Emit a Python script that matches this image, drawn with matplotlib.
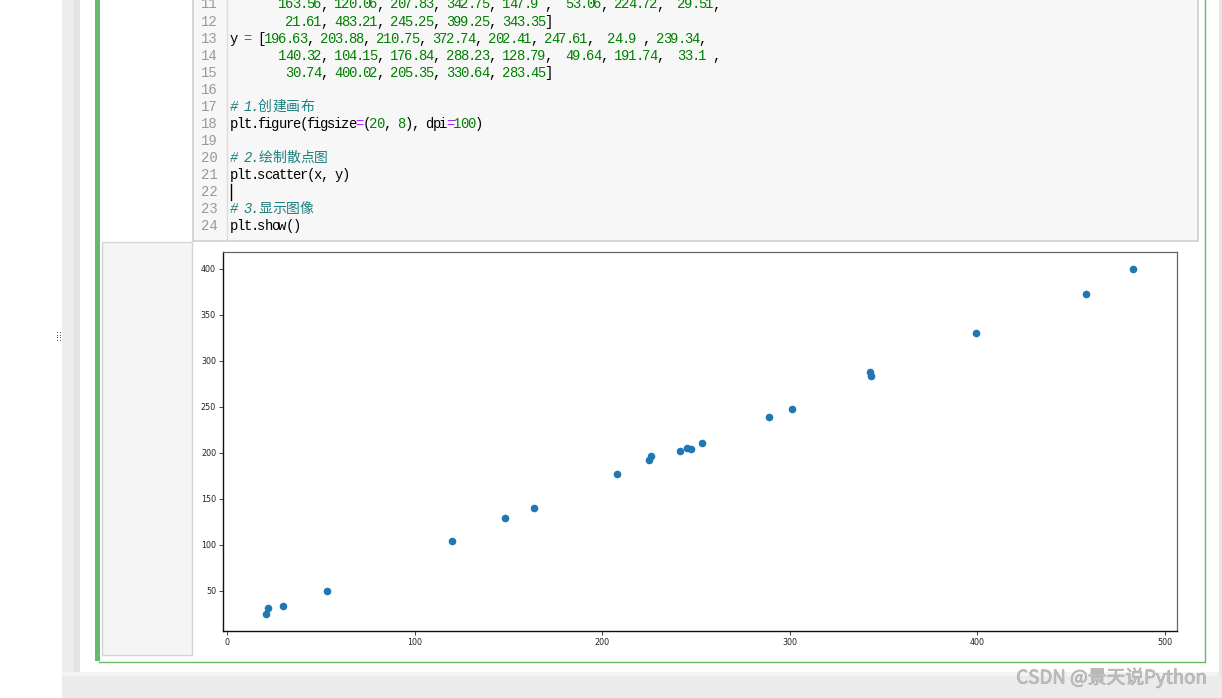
import re
import matplotlib
matplotlib.use("Agg")
import matplotlib.pyplot as plt
from matplotlib.patches import Rectangle
import matplotlib.patheffects as pe
import logging
logging.getLogger('matplotlib.font_manager').setLevel(logging.ERROR)

# ---- data (scatter) ----
x = [225.98, 247.07, 253.14, 457.85, 241.58, 301.01, 20.67, 288.64,
     163.56, 120.06, 207.83, 342.75, 147.9, 53.06, 224.72, 29.51,
     21.61, 483.21, 245.25, 399.25, 343.35]
y = [196.63, 203.88, 210.75, 372.74, 202.41, 247.61, 24.9, 239.34,
     140.32, 104.15, 176.84, 288.23, 128.79, 49.64, 191.74, 33.1,
     30.74, 400.02, 205.35, 330.64, 283.45]
x_ticks = [0, 100, 200, 300, 400, 500]
y_ticks = [50, 100, 150, 200, 250, 300, 350, 400]

# ---- notebook code text ----
first_line_no = 11
code_lines = [
    "       163.56, 120.06, 207.83, 342.75, 147.9 ,  53.06, 224.72,  29.51,",
    "        21.61, 483.21, 245.25, 399.25, 343.35]",
    "y = [196.63, 203.88, 210.75, 372.74, 202.41, 247.61,  24.9 , 239.34,",
    "       140.32, 104.15, 176.84, 288.23, 128.79,  49.64, 191.74,  33.1 ,",
    "        30.74, 400.02, 205.35, 330.64, 283.45]",
    "",
    "# 1.创建画布",
    "plt.figure(figsize=(20, 8), dpi=100)",
    "",
    "# 2.绘制散点图",
    "plt.scatter(x, y)",
    "",
    "# 3.显示图像",
    "plt.show()",
]
watermark = "CSDN @景天说Python"

W, H = 1222, 698
fig = plt.figure(figsize=(W / 100, H / 100), dpi=100)
fig.patch.set_facecolor('white')

bg = fig.add_axes([0, 0, 1, 1])
bg.set_xlim(0, W)
bg.set_ylim(H, 0)
bg.axis('off')

def rect(x0, y0, w, h, fc, ec='none', lw=0, z=0):
    bg.add_patch(Rectangle((x0, y0), w, h, facecolor=fc, edgecolor=ec, linewidth=lw, zorder=z))

# page background pieces
rect(62, 0, 18, H, '#ececec')
rect(74, 0, 6, H, '#e4e4e4')
rect(62, 676, W - 62, H - 676, '#ebebeb')
rect(62, 672, W - 62, 4, '#f3f3f3')
rect(1219, 0, 3, 676, '#e6e6e6')
# grip icon
for gx in (57, 59.5):
    for gy in (332, 334.5, 337, 339.5):
        rect(gx, gy, 1.2, 1.2, '#555555', z=2)

# cell: green left bar + thin green border
rect(95, -5, 4.5, 666, '#66bb6a', z=2)
bg.plot([99, 1204.5, 1204.5], [661.5, 661.5, -5], color='#66bb6a', lw=1.0, zorder=2)

# code area
rect(192.5, -5, 1005.5, 245.5, '#f7f7f7', ec='#cfcfcf', lw=1.2, z=1)
bg.plot([226.5, 226.5], [-5, 240], color='#dddddd', lw=1.0, zorder=2)

# output prompt area
rect(101.5, 241.5, 90, 413.5, '#f5f5f5', ec='#d4d4d4', lw=1.0, z=1)

mono = ['Liberation Mono', 'Noto Sans CJK SC']
x0 = 230.0
cw = 7.0
lh = 17.06
y0 = 4.5

def char_colors(s):
    if s.lstrip().startswith('#'):
        return ['#1f8080'] * len(s), True
    cols = ['#000000'] * len(s)
    for m in re.finditer(r'(?<![A-Za-z_])\d+(?:\.\d*)?', s):
        for k in range(m.start(), m.end()):
            cols[k] = '#008000'
    for k, ch in enumerate(s):
        if ch == '=':
            cols[k] = '#aa22ff'
    return cols, False

for i, line in enumerate(code_lines):
    yy = y0 + lh * i
    bg.text(218, yy, str(first_line_no + i), ha='right', va='center',
            family=mono, fontsize=10, color='#999999', zorder=3)
    cols, italic = char_colors(line)
    col = 0
    for k, ch in enumerate(line):
        wide = ord(ch) > 0x2E80
        ncol = 2 if wide else 1
        if ch != ' ':
            cx = x0 + cw * col + cw * ncol / 2
            bg.text(cx, yy, ch, ha='center', va='center', family=mono,
                    fontsize=10, color=cols[k],
                    style='italic' if italic else 'normal', zorder=3)
        col += ncol

# text cursor on line 22
bg.plot([231, 231], [y0 + lh * 11 - 8, y0 + lh * 11 + 8], color='black', lw=1.0, zorder=3)

# watermark
bg.text(1207, 678, watermark, ha='right', va='center', family=['Noto Sans CJK SC'],
        fontsize=13.5, color='#bdbdbd', zorder=5,
        path_effects=[pe.withStroke(linewidth=0.5, foreground='#a2a2a2')])

# ---- the scatter chart ----
L, R, T, B = 222.7, 1176.7, 251.7, 631.0
ax = fig.add_axes([L / W, (H - B) / H, (R - L) / W, (B - T) / H])
ax.set_facecolor('white')
ax.scatter(x, y, s=20, color='#1f77b4', zorder=3)
ax.set_xticks(x_ticks)
ax.set_yticks(y_ticks)
ax.tick_params(labelsize=5.8, length=2.8, width=0.6, pad=2, colors='#222222')
for name, sp in ax.spines.items():
    if name in ('left', 'bottom'):
        sp.set_linewidth(1.0)
        sp.set_color('#111111')
    else:
        sp.set_linewidth(0.9)
        sp.set_color('#666666')

fig.savefig('out.png', dpi=100)
